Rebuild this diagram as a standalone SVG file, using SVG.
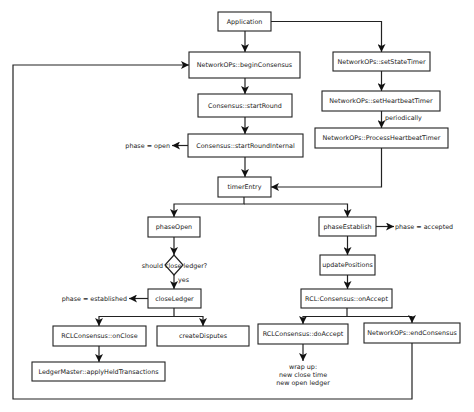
<svg xmlns="http://www.w3.org/2000/svg" width="474" height="412" viewBox="0 0 474 412">
<defs>
<marker id="ah" viewBox="0 0 8 8" refX="8" refY="4" markerWidth="8" markerHeight="8" markerUnits="userSpaceOnUse" orient="auto">
<path d="M0,0 L8,4 L0,8 L2,4 z" fill="#111"/>
</marker>
<style>
.box{fill:#fff;stroke:#222;stroke-width:1.1}
.t{font-family:"DejaVu Sans",sans-serif;font-size:6.4px;fill:#222;text-anchor:middle}
.l{font-family:"DejaVu Sans",sans-serif;font-size:6.4px;fill:#222}
.e{fill:none;stroke:#222;stroke-width:1.2;marker-end:url(#ah)}
</style>
</defs>
<rect width="474" height="412" fill="#fff"/>
<g id="connectors">
<path class="e" d="M245,31 V52"/>
<path class="e" d="M271,21.5 H381.5 V52"/>
<path class="e" d="M245,78 V94"/>
<path class="e" d="M245,117 V134"/>
<path class="e" d="M188,145.5 H172"/>
<path class="e" d="M245,157 V177"/>
<path class="e" d="M381.5,71 V91"/>
<path class="e" d="M381.5,111 V128"/>
<path class="e" d="M381.5,148 V187 H271"/>
<path class="e" d="M244,197 V204 H174 V217"/>
<path class="e" d="M244,204 H347.5 V217"/>
<path class="e" d="M174,237 V255"/>
<path class="e" d="M174,275 V289"/>
<path class="e" d="M148,298.5 H129"/>
<path class="e" d="M174,308 V316.5 H99 V326"/>
<path class="e" d="M174,316.5 H203 V326"/>
<path class="e" d="M99,346 V362"/>
<path class="e" d="M376,226.5 H394"/>
<path class="e" d="M347.5,236 V255"/>
<path class="e" d="M347.5,275 V289"/>
<path class="e" d="M347,308 V316.5 H303 V324"/>
<path class="e" d="M347,316.5 H412 V323"/>
<path class="e" d="M303,344 V361"/>
<path class="e" d="M412,343 V399 H13 V65 H189"/>
<text class="l" x="385" y="120">periodically</text>
<text class="l" x="178" y="282">yes</text>
</g>
<g id="n-application"><rect class="box" x="218" y="12" width="53" height="19"/><text class="t" x="244.5" y="23.8">Application</text></g>
<g id="n-beginConsensus"><rect class="box" x="189" y="52" width="111" height="26"/><text class="t" x="244.5" y="67.3">NetworkOPs::beginConsensus</text></g>
<g id="n-startRound"><rect class="box" x="198" y="94" width="94" height="23"/><text class="t" x="245" y="107.8">Consensus::startRound</text></g>
<g id="n-startRoundInternal"><rect class="box" x="188" y="134" width="115" height="23"/><text class="t" x="245.5" y="147.8">Consensus::startRoundInternal</text></g>
<g id="n-phaseOpenLabel"><text class="l" x="170" y="148" text-anchor="end">phase = open</text></g>
<g id="n-timerEntry"><rect class="box" x="218" y="177" width="53" height="20"/><text class="t" x="244.5" y="189.3">timerEntry</text></g>
<g id="n-setStateTimer"><rect class="box" x="333" y="52" width="97" height="19"/><text class="t" x="381.5" y="63.8">NetworkOPs::setStateTimer</text></g>
<g id="n-setHeartbeatTimer"><rect class="box" x="322" y="91" width="118" height="20"/><text class="t" x="381" y="103.3">NetworkOPs::setHeartbeatTimer</text></g>
<g id="n-processHeartbeatTimer"><rect class="box" x="315" y="128" width="133" height="20"/><text class="t" x="381.5" y="140.3">NetworkOPs::ProcessHeartbeatTimer</text></g>
<g id="n-phaseOpen"><rect class="box" x="148" y="217" width="52" height="20"/><text class="t" x="174" y="229.3">phaseOpen</text></g>
<g id="n-shouldClose"><text class="t" x="174.5" y="267.5">should close ledger?</text><path d="M174,255 L183,265 L174,275 L165,265 Z" fill="none" stroke="#222" stroke-width="1.2"/></g>
<g id="n-closeLedger"><rect class="box" x="148" y="289" width="53" height="19"/><text class="t" x="174.5" y="300.8">closeLedger</text></g>
<g id="n-phaseEstablishedLabel"><text class="l" x="127" y="301" text-anchor="end">phase = established</text></g>
<g id="n-onClose"><rect class="box" x="53" y="326" width="93" height="20"/><text class="t" x="99.5" y="338.3">RCLConsensus::onClose</text></g>
<g id="n-createDisputes"><rect class="box" x="157" y="326" width="92" height="20"/><text class="t" x="203" y="338.3">createDisputes</text></g>
<g id="n-applyHeld"><rect class="box" x="32" y="362" width="133" height="19"/><text class="t" x="98.5" y="373.8">LedgerMaster::applyHeldTransactions</text></g>
<g id="n-phaseEstablish"><rect class="box" x="319" y="217" width="57" height="19"/><text class="t" x="347.5" y="228.8">phaseEstablish</text></g>
<g id="n-phaseAcceptedLabel"><text class="l" x="395" y="229">phase = accepted</text></g>
<g id="n-updatePositions"><rect class="box" x="320" y="255" width="55" height="20"/><text class="t" x="347.5" y="267.3">updatePositions</text></g>
<g id="n-onAccept"><rect class="box" x="301" y="289" width="91" height="19"/><text class="t" x="346.5" y="300.8">RCL:Consensus::onAccept</text></g>
<g id="n-doAccept"><rect class="box" x="258" y="324" width="90" height="20"/><text class="t" x="303" y="336.3">RCLConsensus::doAccept</text></g>
<g id="n-endConsensus"><rect class="box" x="364" y="323" width="96" height="20"/><text class="t" x="412" y="335.3">NetworkOPs::endConsensus</text></g>
<g id="n-wrapUp"><text class="t" x="303" y="369">wrap up:</text><text class="t" x="303" y="377">new close time</text><text class="t" x="303" y="385">new open ledger</text></g>
</svg>
